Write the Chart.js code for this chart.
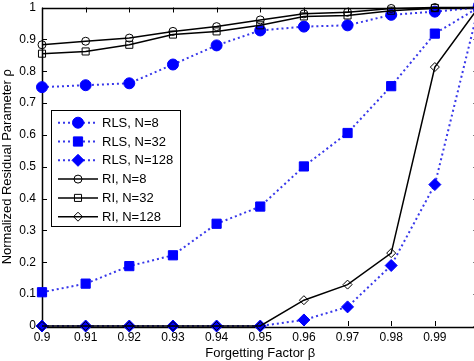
<!DOCTYPE html>
<html>
<head>
<meta charset="utf-8">
<script src="https://cdn.jsdelivr.net/npm/chart.js@4.4.0/dist/chart.umd.min.js"></script>
<style>
html, body { margin: 0; padding: 0; background: #fff; overflow: hidden; }
#wrap { width: 486px; height: 361px; }
</style>
</head>
<body>
<div id="wrap"><canvas id="rho-chart" width="486" height="361"></canvas></div>
<script>
// forgetting factor beta on the x axis
const beta = [0.9, 0.91, 0.92, 0.93, 0.94, 0.95, 0.96, 0.97, 0.98, 0.99, 1.0];

// normalized residual parameter rho
const rls8   = [0.75, 0.756, 0.762, 0.821, 0.881, 0.928, 0.94, 0.944, 0.977, 0.987, 1.0];
const rls32  = [0.106, 0.133, 0.188, 0.222, 0.321, 0.375, 0.501, 0.606, 0.753, 0.918, 1.0];
const rls128 = [0, 0, 0, 0, 0, 0, 0.019, 0.06, 0.19, 0.444, 1.0];
const ri8    = [0.883, 0.894, 0.904, 0.925, 0.94, 0.961, 0.98, 0.985, 0.997, 1.0, 1.0];
const ri32   = [0.855, 0.862, 0.883, 0.915, 0.925, 0.944, 0.972, 0.975, 0.99, 0.998, 1.0];
const ri128  = [0, 0, 0, 0, 0, 0, 0.081, 0.13, 0.229, 0.813, 1.0];

const labels = ['RLS, N=8', 'RLS, N=32', 'RLS, N=128', 'RI, N=8', 'RI, N=32', 'RI, N=128'];

const FONT = '"Liberation Sans", Arial, sans-serif';
const BLUE = '#0000ff';
const NONE = 'rgba(0,0,0,0)';

const pts = arr => beta.map((b, i) => ({x: b, y: arr[i]}));

function rlsSet(label, arr, style, r) {
  return {
    label: label, data: pts(arr), order: 2, clip: false,
    borderColor: 'rgba(20,20,230,0.85)', borderWidth: 2, borderDash: [2, 3],
    pointStyle: style, pointRadius: r, pointBorderWidth: 1,
    pointBackgroundColor: BLUE, pointBorderColor: BLUE
  };
}
function riSet(label, arr, style, r) {
  return {
    label: label, data: pts(arr), order: 1, clip: false,
    borderColor: '#000', borderWidth: 1.5,
    pointStyle: style, pointRadius: r, pointBorderWidth: 1,
    pointBackgroundColor: NONE, pointBorderColor: '#000'
  };
}

const datasets = [
  rlsSet(labels[0], rls8, 'circle', 5.5),
  rlsSet(labels[1], rls32, 'rect', 6.5),
  rlsSet(labels[2], rls128, 'rectRot', 6),
  riSet(labels[3], ri8, 'circle', 4),
  riSet(labels[4], ri32, 'rect', 5),
  riSet(labels[5], ri128, 'rectRot', 4.5)
];

// box round the axes with small inward ticks, matlab style
const frameTicks = {
  id: 'frameTicks',
  beforeDatasetsDraw(chart) {
    const {ctx, chartArea: a, scales: {x, y}} = chart;
    ctx.save();
    ctx.strokeStyle = '#000';
    ctx.lineWidth = 1;
    ctx.beginPath();
    x.ticks.forEach(t => {
      const px = Math.round(x.getPixelForValue(t.value)) + 0.5;
      ctx.moveTo(px, a.bottom); ctx.lineTo(px, a.bottom - 5);
      ctx.moveTo(px, a.top); ctx.lineTo(px, a.top + 5);
    });
    y.ticks.forEach(t => {
      const py = Math.round(y.getPixelForValue(t.value)) + 0.5;
      ctx.moveTo(a.left, py); ctx.lineTo(a.left + 5, py);
      ctx.moveTo(a.right, py); ctx.lineTo(a.right - 5, py);
    });
    ctx.stroke();
    ctx.lineWidth = 1.5;
    ctx.strokeRect(Math.round(a.left) + 0.5, Math.round(a.top) + 0.5,
      Math.round(a.right - a.left), Math.round(a.bottom - a.top));
    ctx.restore();
  }
};

function marker(ctx, style, x, y, r) {
  ctx.beginPath();
  if (style === 'circle') {
    ctx.arc(x, y, r, 0, Math.PI * 2);
  } else if (style === 'rect') {
    const s = r * Math.SQRT1_2;
    ctx.rect(x - s, y - s, 2 * s, 2 * s);
  } else {
    ctx.moveTo(x - r, y); ctx.lineTo(x, y - r);
    ctx.lineTo(x + r, y); ctx.lineTo(x, y + r);
    ctx.closePath();
  }
  ctx.fill();
  ctx.stroke();
}

// legend box inside the plot, upper left
const boxLegend = {
  id: 'boxLegend',
  afterDatasetsDraw(chart) {
    const ctx = chart.ctx;
    const left = 51, top = 110.5, w = 129, h = 116;
    ctx.save();
    ctx.fillStyle = '#fff';
    ctx.fillRect(left, top, w, h);
    ctx.strokeStyle = '#000';
    ctx.lineWidth = 1;
    ctx.strokeRect(left + 0.5, top, w, h);
    chart.data.datasets.forEach((ds, i) => {
      const y = 122.7 + i * 18.8;
      ctx.strokeStyle = ds.borderColor;
      ctx.lineWidth = ds.borderWidth;
      ctx.setLineDash(ds.borderDash || []);
      ctx.beginPath();
      ctx.moveTo(58, y); ctx.lineTo(98, y);
      ctx.stroke();
      ctx.setLineDash([]);
      ctx.lineWidth = ds.pointBorderWidth;
      ctx.strokeStyle = ds.pointBorderColor;
      ctx.fillStyle = ds.pointBackgroundColor;
      marker(ctx, ds.pointStyle, 78, y, ds.pointRadius);
      ctx.fillStyle = '#000';
      ctx.font = '13px ' + FONT;
      ctx.textBaseline = 'middle';
      ctx.textAlign = 'left';
      ctx.fillText(ds.label, 102, y + 0.5);
    });
    ctx.restore();
  }
};

const ctx = document.getElementById('rho-chart');

const rhoChart = new Chart(ctx, {
  type: 'line',
  data: { datasets: datasets },
  options: {
    responsive: false,
    animation: false,
    events: [],
    layout: { padding: { top: 6, right: 2, left: 0, bottom: 0 } },
    plugins: { legend: { display: false }, tooltip: { enabled: false } },
    scales: {
      x: {
        type: 'linear', min: 0.9, max: 1.0,
        grid: { display: false, drawTicks: false },
        border: { display: false },
        ticks: {
          stepSize: 0.01, padding: 4, color: '#000', maxRotation: 0, autoSkip: false,
          font: { family: FONT, size: 12 },
          callback: v => v > 0.995 ? '' : String(+v.toFixed(2))
        },
        title: {
          display: true, text: 'Forgetting Factor β', color: '#000',
          font: { family: FONT, size: 13 }, padding: { top: 0, bottom: 0 }
        },
        afterFit(s) { s.height = 35; s.paddingLeft = 0; s.paddingRight = 0; }
      },
      y: {
        min: 0, max: 1,
        grid: { display: false, drawTicks: false },
        border: { display: false },
        ticks: {
          stepSize: 0.1, padding: 6, color: '#000',
          font: { family: FONT, size: 12 },
          callback: v => String(+v.toFixed(1))
        },
        title: {
          display: true, text: 'Normalized Residual Parameter ρ', color: '#000',
          font: { family: FONT, size: 13 }, padding: { top: 0, bottom: 0 }
        },
        afterFit(s) { s.width = 42; s.paddingTop = 0; s.paddingBottom = 0; }
      }
    }
  },
  plugins: [frameTicks, boxLegend]
});
</script>
</body>
</html>
